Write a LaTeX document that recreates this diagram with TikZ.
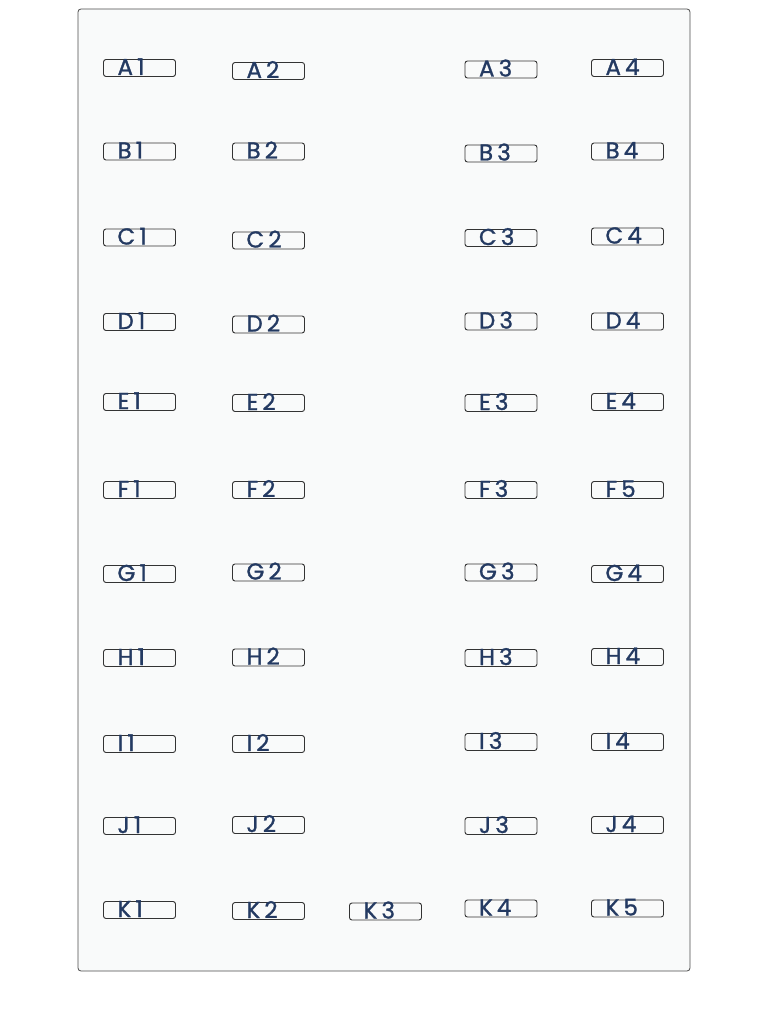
\documentclass[tikz,border=0pt]{standalone}
\usepackage{fontspec}
\newfontfamily\slotfont[LetterSpace=18, FakeBold=1.2]{Poppins}
\definecolor{slotink}{HTML}{243A62}
\definecolor{panelfill}{HTML}{F9FAFA}
\tikzset{
  slot/.style={draw=black!80, line width=0.9pt, rounded corners=2.5pt,
    minimum width=72pt, minimum height=17pt, inner ysep=0pt, inner xsep=14pt,
    text width=44pt, align=left, text height=15.5pt, text depth=1.5pt,
    font=\slotfont\fontsize{23}{23}\selectfont, text=slotink}
}

\begin{document}
\begin{tikzpicture}[x=1pt, y=-1pt]
			%%%%% PANEL %%%%%
			\useasboundingbox (0, 0) rectangle (768, 1024);
			\draw[fill=panelfill, draw=black!70, line width=0.8pt, rounded corners=3pt] (78, 9) rectangle (690, 971);
			
			%%%%% ROW A %%%%%
			\node[slot] (a1) at (139.5, 68) {A1};
			\node[slot] (a2) at (268.5, 71) {A2};
			\node[slot] (a3) at (501, 69.5) {A3};
			\node[slot] (a4) at (627.5, 68) {A4};
			
			%%%%% ROW B %%%%%
			\node[slot] (b1) at (139.5, 151.5) {B1};
			\node[slot] (b2) at (268.5, 151.5) {B2};
			\node[slot] (b3) at (501, 153.5) {B3};
			\node[slot] (b4) at (627.5, 151.5) {B4};
			
			%%%%% ROW C %%%%%
			\node[slot] (c1) at (139.5, 237.5) {C1};
			\node[slot] (c2) at (268.5, 240.5) {C2};
			\node[slot] (c3) at (501, 238) {C3};
			\node[slot] (c4) at (627.5, 236.5) {C4};
			
			%%%%% ROW D %%%%%
			\node[slot] (d1) at (139.5, 322) {D1};
			\node[slot] (d2) at (268.5, 324.5) {D2};
			\node[slot] (d3) at (501, 321.5) {D3};
			\node[slot] (d4) at (627.5, 321.5) {D4};
			
			%%%%% ROW E %%%%%
			\node[slot] (e1) at (139.5, 402) {E1};
			\node[slot] (e2) at (268.5, 403) {E2};
			\node[slot] (e3) at (501, 403) {E3};
			\node[slot] (e4) at (627.5, 402) {E4};
			
			%%%%% ROW F %%%%%
			\node[slot] (f1) at (139.5, 490) {F1};
			\node[slot] (f2) at (268.5, 490) {F2};
			\node[slot] (f3) at (501, 490) {F3};
			\node[slot] (f5) at (627.5, 490) {F5};
			
			%%%%% ROW G %%%%%
			\node[slot] (g1) at (139.5, 574) {G1};
			\node[slot] (g2) at (268.5, 572.5) {G2};
			\node[slot] (g3) at (501, 572.5) {G3};
			\node[slot] (g4) at (627.5, 574) {G4};
			
			%%%%% ROW H %%%%%
			\node[slot] (h1) at (139.5, 658) {H1};
			\node[slot] (h2) at (268.5, 657.5) {H2};
			\node[slot] (h3) at (501, 658) {H3};
			\node[slot] (h4) at (627.5, 657) {H4};
			
			%%%%% ROW I %%%%%
			\node[slot] (i1) at (139.5, 744) {I1};
			\node[slot] (i2) at (268.5, 744) {I2};
			\node[slot] (i3) at (501, 742) {I3};
			\node[slot] (i4) at (627.5, 742) {I4};
			
			%%%%% ROW J %%%%%
			\node[slot] (j1) at (139.5, 826) {J1};
			\node[slot] (j2) at (268.5, 825) {J2};
			\node[slot] (j3) at (501, 826) {J3};
			\node[slot] (j4) at (627.5, 825) {J4};
			
			%%%%% ROW K %%%%%
			\node[slot] (k1) at (139.5, 910) {K1};
			\node[slot] (k2) at (268.5, 911) {K2};
			\node[slot] (k3) at (385.5, 911.5) {K3};
			\node[slot] (k4) at (501, 908.5) {K4};
			\node[slot] (k5) at (627.5, 908.5) {K5};
\end{tikzpicture}
\end{document}
